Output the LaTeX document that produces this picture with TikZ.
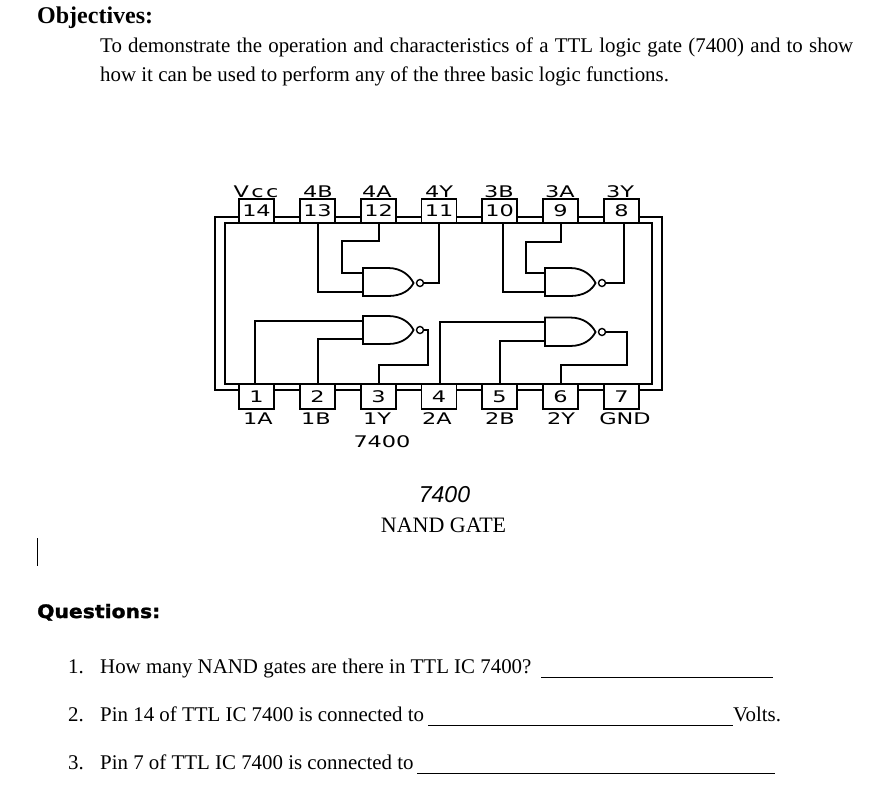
\documentclass[tikz,border=0pt]{standalone}
\usepackage{fontspec}
\setmainfont{Liberation Serif}
\newfontfamily\chipfont[FakeStretch=1.4]{DejaVu Sans}
\newfontfamily\heavyfont[BoldFeatures={FakeStretch=1.1,FakeBold=1.6}]{DejaVu Sans}
\newfontfamily\armfont{Liberation Sans}
\tikzset{
  wire/.style = {draw = black, line width = 1.8pt},
  pinbox/.style = {draw = black, fill = white, line width = 1.8pt, minimum width = 35pt, minimum height = 24.5pt, inner sep = 0pt, font = \chipfont\fontsize{16}{16}\selectfont},
  pinlabel/.style = {inner sep = 0pt, font = \chipfont\fontsize{16}{16}\selectfont},
  bubble/.style = {circle, draw = black, fill = white, line width = 1.4pt, minimum size = 7pt, inner sep = 0pt},
  bodytext/.style = {anchor = base west, inner sep = 0pt, font = \fontsize{20.9}{21}\selectfont},
  blank/.style = {draw = black, line width = 0.9pt}
}
\begin{document}
\begin{tikzpicture}[x = 1pt, y = 1pt]
\useasboundingbox (0, 0) rectangle (880, -789);
\node[bodytext, font = \bfseries\fontsize{24}{24}\selectfont] (objectives) at (37, -24) {Objectives:};
\node[bodytext] (aimone) at (100, -53) {\makebox[753pt][s]{To demonstrate the operation and characteristics of a TTL logic gate (7400) and to show}};
\node[bodytext] (aimtwo) at (100, -82) {how it can be used to perform any of the three basic logic functions.};
\draw[wire] (215, -217) rectangle (662, -390);
\draw[wire, fill = white] (225, -223) rectangle (652, -384);
\node[pinbox] (pin14) at (256.5, -211) {14};
\node[pinbox] (pin13) at (317.5, -211) {13};
\node[pinbox] (pin12) at (378.5, -211) {12};
\node[pinbox] (pin11) at (439, -211) {11};
\node[pinbox] (pin10) at (499.5, -211) {10};
\node[pinbox] (pin9) at (560.5, -211) {9};
\node[pinbox] (pin8) at (621.5, -211) {8};
\node[pinbox] (pin1) at (256.5, -396.5) {1};
\node[pinbox] (pin2) at (317.5, -396.5) {2};
\node[pinbox] (pin3) at (378.5, -396.5) {3};
\node[pinbox] (pin4) at (439, -396.5) {4};
\node[pinbox] (pin5) at (499.5, -396.5) {5};
\node[pinbox] (pin6) at (560.5, -396.5) {6};
\node[pinbox] (pin7) at (621.5, -396.5) {7};
\node[pinlabel] (vcc) at (256, -192) {V\kern2.5pt c\kern2.5pt c};
\node[pinlabel] (fourb) at (318, -192) {4B};
\node[pinlabel] (foura) at (377, -192) {4A};
\node[pinlabel] (foury) at (439, -192) {4Y};
\node[pinlabel] (threeb) at (499, -192) {3B};
\node[pinlabel] (threea) at (560, -192) {3A};
\node[pinlabel] (threey) at (620, -192) {3Y};
\node[pinlabel] (onea) at (258, -419) {1A};
\node[pinlabel] (oneb) at (316, -419) {1B};
\node[pinlabel] (oney) at (377, -419) {1Y};
\node[pinlabel] (twoa) at (437, -419) {2A};
\node[pinlabel] (twob) at (500, -419) {2B};
\node[pinlabel] (twoy) at (561, -419) {2Y};
\node[pinlabel] (gnd) at (625, -419) {GND};
\node[pinlabel] (chipname) at (382, -442) {7400};
\coordinate (gatedin) at (363, -273);
\coordinate (gatedib) at (363, -292);
\coordinate (gateain) at (363, -321);
\coordinate (gateaib) at (363, -339);
\coordinate (gatecin) at (545, -273);
\coordinate (gatecib) at (545, -292);
\coordinate (gatebin) at (545, -322);
\coordinate (gatebib) at (545, -341);
\coordinate (pintenfoot) at (503, -223);
\coordinate (pineightfoot) at (624, -223);
\coordinate (bendd) at (342, -241);
\coordinate (bendc) at (526, -242);
\coordinate (benda) at (428, -365);
\coordinate (bendb) at (627, -365);
\draw[wire] ([xshift = 0.5pt]pin13.south) |- (gatedib);
\draw[wire] ([xshift = 0.5pt]pin12.south) |- (bendd) |- (gatedin);
\draw[wire] (pintenfoot) |- (gatecib);
\draw[wire] ([xshift = 0.5pt]pin9.south) |- (bendc) |- (gatecin);
\draw[wire] ([xshift = -1.5pt]pin1.north) |- (gateain);
\draw[wire] ([xshift = 0.5pt]pin2.north) |- (gateaib);
\draw[wire] ([xshift = 1pt]pin4.north) |- (gatebin);
\draw[wire] ([xshift = 0.5pt]pin5.north) |- (gatebib);
\draw[wire, fill = white] (363, -268) -- (388, -268) .. controls (402, -268) and (410, -276) .. (413.5, -283) .. controls (410, -290) and (402, -296) .. (388, -296) -- (363, -296) -- cycle;
\draw[wire, fill = white] (363, -316) -- (388, -316) .. controls (402, -316) and (410, -323) .. (413.5, -330) .. controls (410, -337) and (402, -344) .. (388, -344) -- (363, -344) -- cycle;
\draw[wire, fill = white] (545, -268) -- (570, -268) .. controls (584, -268) and (592, -276) .. (595.5, -283) .. controls (592, -290) and (584, -296) .. (570, -296) -- (545, -296) -- cycle;
\draw[wire, fill = white] (545, -317.5) -- (570, -317.5) .. controls (584, -317.5) and (592, -325) .. (595.5, -332) .. controls (592, -339) and (584, -346) .. (570, -346) -- (545, -346) -- cycle;
\node[bubble] (bubbled) at (420, -283) {};
\node[bubble] (bubblea) at (420, -330) {};
\node[bubble] (bubblec) at (602, -283) {};
\node[bubble] (bubbleb) at (602, -332) {};
\draw[wire] (bubbled.east) -| (pin11.south);
\draw[wire] (bubblec.east) -| (pineightfoot);
\draw[wire] (bubblea.east) -| (benda) -| ([xshift = 0.5pt]pin3.north);
\draw[wire] (bubbleb.east) -| (bendb) -| ([xshift = 0.5pt]pin6.north);
\node[anchor = base, inner sep = 0pt, font = \armfont\itshape\fontsize{23}{23}\selectfont] (title) at (444.5, -502) {7400};
\node[anchor = base, inner sep = 0pt, font = \fontsize{22}{22}\selectfont] (subtitle) at (443.5, -532) {NAND GATE};
\coordinate (cursortop) at (37, -538);
\coordinate (cursorend) at (37, -566);
\draw[black, line width = 1pt] (cursortop) -- (cursorend);
\node[anchor = base west, inner sep = 0pt, font = \heavyfont\bfseries\fontsize{18.5}{18.5}\selectfont] (questions) at (37, -618) {Questions:};
\node[bodytext] (numone) at (68, -673) {1.};
\node[bodytext] (askone) at (100, -673) {How many NAND gates are there in TTL IC 7400?};
\node[bodytext] (numtwo) at (68, -721) {2.};
\node[bodytext] (asktwo) at (100, -721) {Pin 14 of TTL IC 7400 is connected to};
\node[bodytext] (volts) at (733, -721) {Volts.};
\node[bodytext] (numthree) at (68, -769) {3.};
\node[bodytext] (askthree) at (100, -769) {Pin 7 of TTL IC 7400 is connected to};
\coordinate (blankonea) at (541, -677);
\coordinate (blankoneb) at (773, -677);
\coordinate (blankthreea) at (417, -773);
\coordinate (blankthreeb) at (775, -773);
\coordinate (blanktwoa) at (428, -725);
\draw[blank] (blankonea) -- (blankoneb);
\draw[blank] (blanktwoa) -- (volts.west |- blanktwoa);
\draw[blank] (blankthreea) -- (blankthreeb);
\end{tikzpicture}
\end{document}
